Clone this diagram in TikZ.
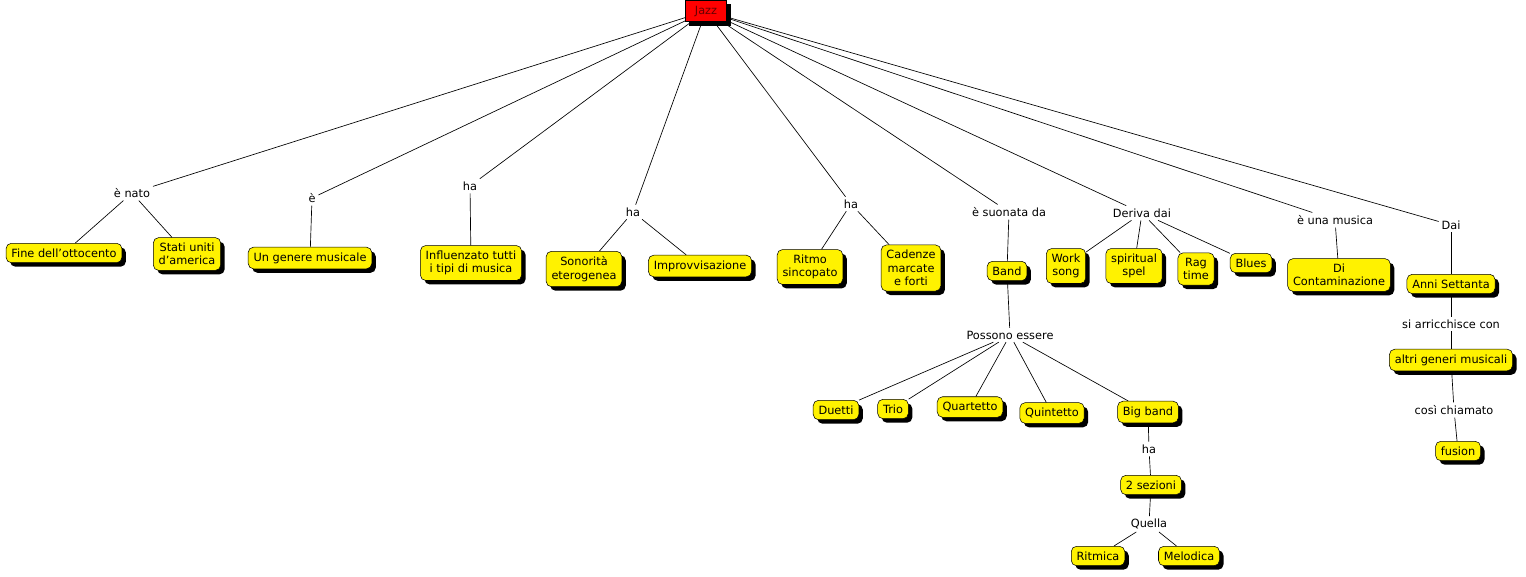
\documentclass[tikz,border=0pt]{standalone}
\usepackage{fontspec}
\setmainfont{DejaVu Sans}
\usetikzlibrary{shadows}
\begin{document}
\begin{tikzpicture}[x=0.75pt,y=-0.75pt,
 concept/.style={draw=black,fill=yellow,rounded corners=4pt,align=center,font=\fontsize{8.5}{10}\selectfont,inner xsep=4pt,inner ysep=4pt,
   drop shadow={shadow xshift=3pt,shadow yshift=-3pt,opacity=1,fill=black}},
 root/.style={draw=black,fill=red,font=\fontsize{8.5}{10}\selectfont,text=black!60!red,minimum width=31pt,minimum height=16pt,
   drop shadow={shadow xshift=3pt,shadow yshift=-3pt,opacity=1,fill=black}},
 lab/.style={fill=white,font=\fontsize{8.5}{10}\selectfont,inner sep=2pt},
 link/.style={draw=black,line width=0.5pt}]
\useasboundingbox (0,0) rectangle (1526,576);
% concepts
\node[root] (jazz) at (706,11) {Jazz};
\node[concept] (fine) at (64,253) {Fine dell'ottocento};
\node[concept] (stati) at (187,254) {Stati uniti\\d'america};
\node[concept] (genere) at (310,258) {Un genere musicale};
\node[concept] (infl) at (471,263) {Influenzato tutti\\i tipi di musica};
\node[concept] (sono) at (584,269) {Sonorità\\eterogenea};
\node[concept] (impr) at (700,266) {Improvvisazione};
\node[concept] (ritmo) at (810,267) {Ritmo\\sincopato};
\node[concept] (cad) at (911,268) {Cadenze\\marcate\\e forti};
\node[concept] (band) at (1007,271) {Band};
\node[concept] (work) at (1066,266) {Work\\song};
\node[concept] (spir) at (1134,266) {spiritual\\spel};
\node[concept] (rag) at (1196,269) {Rag\\time};
\node[concept] (blues) at (1251,263) {Blues};
\node[concept] (cont) at (1339,275) {Di\\Contaminazione};
\node[concept] (anni) at (1451,284) {Anni Settanta};
\node[concept] (altri) at (1451,360) {altri generi musicali};
\node[concept] (fusion) at (1458,451) {fusion};
\node[concept] (duetti) at (836,410) {Duetti};
\node[concept] (trio) at (893,409) {Trio};
\node[concept] (quart) at (970,407) {Quartetto};
\node[concept] (quint) at (1052,413) {Quintetto};
\node[concept] (big) at (1148,412) {Big band};
\node[concept] (sez) at (1151,485) {2 sezioni};
\node[concept] (ritmica) at (1098,556) {Ritmica};
\node[concept] (melod) at (1189,556) {Melodica};
% link labels
\node[lab] (l1) at (132,193) {è nato};
\node[lab] (l2) at (312,198) {è};
\node[lab] (l3) at (470,186) {ha};
\node[lab] (l4) at (633,212) {ha};
\node[lab] (l5) at (851,204) {ha};
\node[lab] (l6) at (1009,212) {è suonata da};
\node[lab] (l7) at (1142,213) {Deriva dai};
\node[lab] (l8) at (1335,220) {è una musica};
\node[lab] (l9) at (1451,225) {Dai};
\node[lab] (l10) at (1010,335) {Possono essere};
\node[lab] (l11) at (1149,449) {ha};
\node[lab] (l12) at (1149,524) {Quella};
\node[lab] (l13) at (1451,324) {si arricchisce con};
\node[lab] (l14) at (1454,410) {così chiamato};
% connectors
\begin{scope}[on background layer/.style={}]
\foreach \l in {l1,l2,l3,l4,l5,l6,l7,l8,l9} \draw[link] (jazz) -- (\l);
\draw[link] (l1) -- (fine); \draw[link] (l1) -- (stati);
\draw[link] (l2) -- (genere);
\draw[link] (l3) -- (infl);
\draw[link] (l4) -- (sono); \draw[link] (l4) -- (impr);
\draw[link] (l5) -- (ritmo); \draw[link] (l5) -- (cad);
\draw[link] (l6) -- (band);
\draw[link] (l7) -- (work); \draw[link] (l7) -- (spir); \draw[link] (l7) -- (rag); \draw[link] (l7) -- (blues);
\draw[link] (l8) -- (cont);
\draw[link] (l9) -- (anni);
\draw[link] (band) -- (l10);
\foreach \t in {duetti,trio,quart,quint,big} \draw[link] (l10) -- (\t);
\draw[link] (big) -- (l11); \draw[link] (l11) -- (sez);
\draw[link] (sez) -- (l12); \draw[link] (l12) -- (ritmica); \draw[link] (l12) -- (melod);
\draw[link] (anni) -- (l13); \draw[link] (l13) -- (altri);
\draw[link] (altri) -- (l14); \draw[link] (l14) -- (fusion);
\end{scope}
\end{tikzpicture}
\end{document}
